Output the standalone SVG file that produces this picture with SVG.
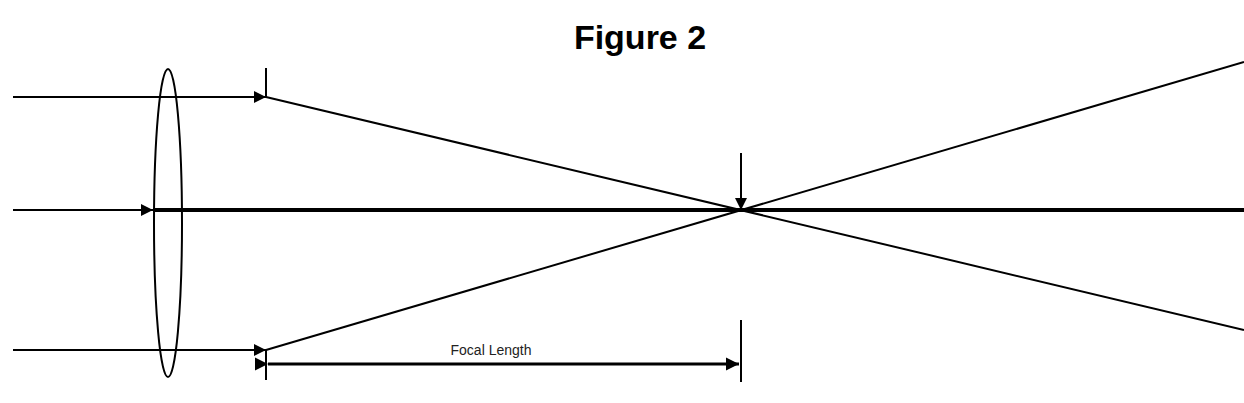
<svg xmlns="http://www.w3.org/2000/svg" width="1244" height="403" viewBox="0 0 1244 403">
<style>
.l{stroke:#000;stroke-width:2;fill:none}
.t{font-family:"Liberation Sans",Arial,sans-serif}
</style>
<defs>
<marker id="a" viewBox="0 0 10 10" refX="10" refY="5" markerWidth="6" markerHeight="6" orient="auto"><path d="M0,0L10,5L0,10z" fill="#000"/></marker>
<marker id="b" viewBox="0 0 10 10" refX="10" refY="5" markerWidth="4.5" markerHeight="4.5" orient="auto"><path d="M0,0L10,5L0,10z" fill="#000"/></marker>
</defs>
<rect width="1244" height="403" fill="#fff"/>
<text class="t" x="640" y="49" font-size="34" font-weight="bold" text-anchor="middle">Figure 2</text>
<g id="lens"><ellipse cx="168" cy="223" rx="14" ry="154" class="l"/></g>
<g id="connectors">
<line x1="13" y1="97" x2="266" y2="97" class="l" marker-end="url(#a)"/>
<line x1="13" y1="210" x2="153" y2="210" class="l" marker-end="url(#a)"/>
<line x1="13" y1="350" x2="266" y2="350" class="l" marker-end="url(#a)"/>
<line x1="153" y1="210" x2="1244" y2="210" stroke="#000" stroke-width="4"/>
<line x1="266" y1="68" x2="266" y2="98" class="l"/>
<line x1="266" y1="350" x2="266" y2="380" class="l"/>
<line x1="266" y1="97" x2="1244" y2="330" class="l"/>
<line x1="266" y1="350" x2="1244" y2="62" class="l"/>
<line x1="741" y1="153" x2="741" y2="210" class="l" marker-end="url(#a)"/>
<line x1="741" y1="320" x2="741" y2="382" class="l"/>
<line x1="268" y1="364" x2="739" y2="364" stroke="#000" stroke-width="3" marker-start="url(#b)" marker-end="url(#b)" transform=""/>
</g>
<text class="t" x="491" y="355" font-size="14" text-anchor="middle" fill="#222">Focal Length</text>
</svg>
